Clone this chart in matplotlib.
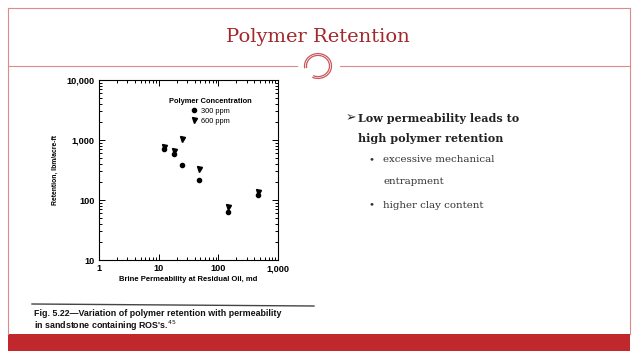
import matplotlib.pyplot as plt
from matplotlib.patches import Rectangle, Arc
from matplotlib.ticker import FixedLocator, FuncFormatter, LogLocator, NullFormatter

# data
perm = [12.5, 18, 24.5, 47, 148, 470]
ret_300 = [700, 578, 387, 218, 62, 121]
ret_600 = [770, 664, 1030, 329, 75, 135]

title = "Polymer Retention"
caption = ["Fig. 5.22\u2014Variation of polymer retention with permeability",
           "in sandstone containing ROS's.$^{45}$"]
bullet_main = ["Low permeability leads to", "high polymer retention"]
bullet_sub = ["excessive mechanical", "entrapment", "higher clay content"]

W, H = 638, 359
fig = plt.figure(figsize=(W / 100, H / 100), dpi=100)
fig.patch.set_facecolor("white")

# slide decoration layer in pixel coordinates
bg = fig.add_axes([0, 0, 1, 1])
bg.set_xlim(0, W)
bg.set_ylim(H, 0)
bg.axis("off")

line_col = "#dd8a8c"
red = "#c0282d"
bg.plot([8, 8], [8, 334], color=line_col, lw=0.8)
bg.plot([630, 630], [8, 334], color=line_col, lw=0.8)
bg.plot([8, 630], [8, 8], color=line_col, lw=0.8)
bg.plot([8, 297], [66, 66], color=line_col, lw=0.8)
bg.plot([340, 630], [66, 66], color=line_col, lw=0.8)
for r in (13.5, 11.5):
    bg.add_patch(Arc((318, 66), 2 * r, 2 * r * 0.92, theta1=170, theta2=477,
                     color="#c9585c", lw=0.9))
bg.add_patch(Rectangle((8, 334), 622, 17, color=red, lw=0))

bg.text(318, 37, title, ha="center", va="center", fontsize=14,
        family="DejaVu Serif", color="#a3282d")

# right hand bullet text
bg.text(346, 118, "\u27a2", ha="left", va="center", fontsize=9,
        family=["DejaVu Sans"], color="#222222")
for i, s in enumerate(bullet_main):
    bg.text(358, 118 + 21 * i, s, ha="left", va="center", fontsize=8.0,
            family="DejaVu Serif", weight="bold", color="#222222")
for s, y, dot in zip(bullet_sub, [160, 182, 205], [True, False, True]):
    if dot:
        bg.text(369, y, "\u2022", ha="left", va="center", fontsize=7.5,
                family="DejaVu Serif", color="#333333")
    bg.text(383, y, s, ha="left", va="center", fontsize=7.4,
            family="DejaVu Serif", color="#333333")

# caption under the scanned chart
bg.plot([32, 314], [304, 306], color="#444444", lw=1.0)
for i, s in enumerate(caption):
    bg.text(34, 314 + 12 * i, s, ha="left", va="center", fontsize=6.4,
            family="Liberation Sans", weight="bold", color="#111111")

# the chart itself
ax = fig.add_axes([99 / W, (H - 260) / H, 179 / W, 180 / H])
ax.set_xscale("log")
ax.set_yscale("log")
ax.set_xlim(1, 1000)
ax.set_ylim(10, 10000)

ax.plot(perm, ret_300, "o", color="black", ms=3, ls="none", label="300 ppm")
ax.plot(perm, ret_600, "v", color="black", ms=3.6, ls="none", label="600 ppm")

fmt = FuncFormatter(lambda v, p: f"{int(v):,}")
ax.xaxis.set_major_locator(FixedLocator([1, 10, 100, 1000]))
ax.yaxis.set_major_locator(FixedLocator([10, 100, 1000, 10000]))
ax.xaxis.set_major_formatter(fmt)
ax.yaxis.set_major_formatter(fmt)
for axis in (ax.xaxis, ax.yaxis):
    axis.set_minor_locator(LogLocator(base=10, subs=range(2, 10)))
    axis.set_minor_formatter(NullFormatter())
ax.tick_params(which="both", direction="in", top=True, right=True, width=0.7,
               labelsize=6.6, pad=3)
ax.tick_params(which="major", length=4)
ax.tick_params(which="minor", length=2)
for lab in ax.get_xticklabels() + ax.get_yticklabels():
    lab.set_fontweight("bold")
    lab.set_family("Liberation Sans")
for sp in ax.spines.values():
    sp.set_linewidth(0.8)

ax.set_xlabel("Brine Permeability at Residual Oil, md", fontsize=5.5,
              family="Liberation Sans", weight="bold", labelpad=2)
ax.set_ylabel("Retention, lbm/acre-ft", fontsize=4.9,
              family="Liberation Sans", weight="bold", labelpad=6)

leg = ax.legend(title="Polymer Concentration", loc="upper left",
                bbox_to_anchor=(0.37, 0.92), frameon=False, fontsize=5.3,
                title_fontsize=5.4, handletextpad=0.4, borderpad=0,
                labelspacing=0.35, handlelength=1.0)
leg.get_title().set_fontweight("bold")
leg.get_title().set_family("Liberation Sans")
for t in leg.get_texts():
    t.set_family("Liberation Sans")

fig.savefig("out.png", dpi=100)
